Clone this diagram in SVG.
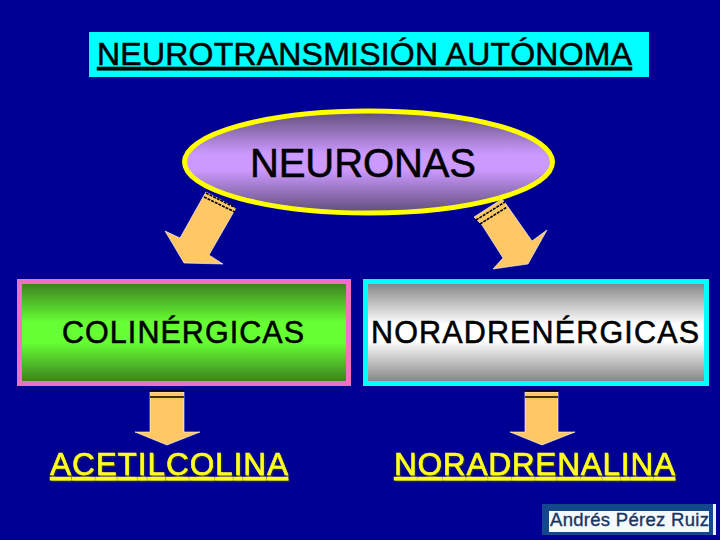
<svg xmlns="http://www.w3.org/2000/svg" width="720" height="540" viewBox="0 0 720 540">
<style>
text{font-family:"Liberation Sans",Arial,sans-serif;fill:#000;stroke:#000;stroke-width:.55}
.arrow{fill:#ffc864;stroke:#fff;stroke-width:.6}
.band{stroke:#000;stroke-width:1.6;fill:none}
.yl{fill:#ffff1e;stroke:#ffff1e;text-decoration:underline;filter:url(#sh)}
</style>
<defs>
<linearGradient id="gE" x1="0" y1="0" x2="0" y2="1"><stop offset="0" stop-color="#5e4d78"/><stop offset=".42" stop-color="#cc99ff"/><stop offset=".58" stop-color="#cc99ff"/><stop offset="1" stop-color="#5e4d78"/></linearGradient>
<linearGradient id="gG" x1="0" y1="0" x2="0" y2="1"><stop offset="0" stop-color="#3a7a1e"/><stop offset=".4" stop-color="#66ff33"/><stop offset=".6" stop-color="#66ff33"/><stop offset="1" stop-color="#3a7a1e"/></linearGradient>
<linearGradient id="gS" x1="0" y1="0" x2="0" y2="1"><stop offset="0" stop-color="#808080"/><stop offset=".42" stop-color="#fff"/><stop offset=".58" stop-color="#fff"/><stop offset="1" stop-color="#808080"/></linearGradient>
<filter id="sh" x="-5%" y="-20%" width="110%" height="140%"><feDropShadow dx="1.5" dy="1.5" stdDeviation="0" flood-color="#2a2a40"/></filter>
</defs>
<rect width="720" height="540" fill="#000092"/>
<g id="title"><rect x="89" y="32" width="560" height="45" fill="#00ffff"/>
<text x="97" y="65" font-size="32" textLength="535" lengthAdjust="spacing" text-decoration="underline">NEUROTRANSMISIÓN AUTÓNOMA</text></g>
<g id="connectors">
<polygon class="arrow" points="206,192 236,208 209,255 223,264 184,263 165,231 180,238 203,197"/>
<path class="band" d="M204,197 L235,212 M206,193 L236,208" stroke-dasharray="3 1"/>
<polygon class="arrow" points="474,217 502,199 506,204 532,241 547,230 528,264 493,269 503,258 482,225"/>
<path class="band" d="M476,220 L505,202 M480,224 L507,207" stroke-width="1" stroke-dasharray="3 1"/>
<polygon class="arrow" points="150,392 184,392 184,432 200,432 167,445 135,432 150,432"/>
<path class="band" d="M150,391 H184 M150,397 H184"/>
<polygon class="arrow" points="525,392 558,392 558,432 575,432 542,445 510,432 525,432"/>
<path class="band" d="M525,391 H558 M525,397 H558"/>
</g>
<g id="neuronas"><ellipse cx="368.500" cy="162" rx="184" ry="51" fill="url(#gE)" stroke="#ffff00" stroke-width="5"/>
<text x="250" y="177" font-size="40" textLength="226" lengthAdjust="spacing">NEURONAS</text></g>
<g id="colinergicas"><rect x="19.500" y="281.500" width="329" height="102" fill="url(#gG)" stroke="#f070c8" stroke-width="5"/>
<text x="62" y="343" font-size="30.500" textLength="242" lengthAdjust="spacing">COLINÉRGICAS</text></g>
<g id="noradrenergicas"><rect x="365.500" y="281.500" width="341" height="102" fill="url(#gS)" stroke="#00ffff" stroke-width="5"/>
<text x="371" y="343" font-size="30.500" textLength="328" lengthAdjust="spacing">NORADRENÉRGICAS</text></g>
<g id="acetilcolina"><text class="yl" x="50" y="475" font-size="31.500" textLength="238" lengthAdjust="spacing">ACETILCOLINA</text></g>
<g id="noradrenalina"><text class="yl" x="394" y="475" font-size="31.500" textLength="281" lengthAdjust="spacing">NORADRENALINA</text></g>
<g id="credit"><rect x="542" y="504" width="171" height="31" fill="#14488c"/>
<rect x="549" y="511" width="160" height="21" fill="#f4f8ff"/>
<rect x="713" y="504" width="3" height="31" fill="#e8eef8"/>
<text x="550" y="526" font-size="18.500" textLength="159" lengthAdjust="spacing" style="fill:#1a3560;stroke:#1a3560;stroke-width:.35">Andrés Pérez Ruiz</text></g>
</svg>
